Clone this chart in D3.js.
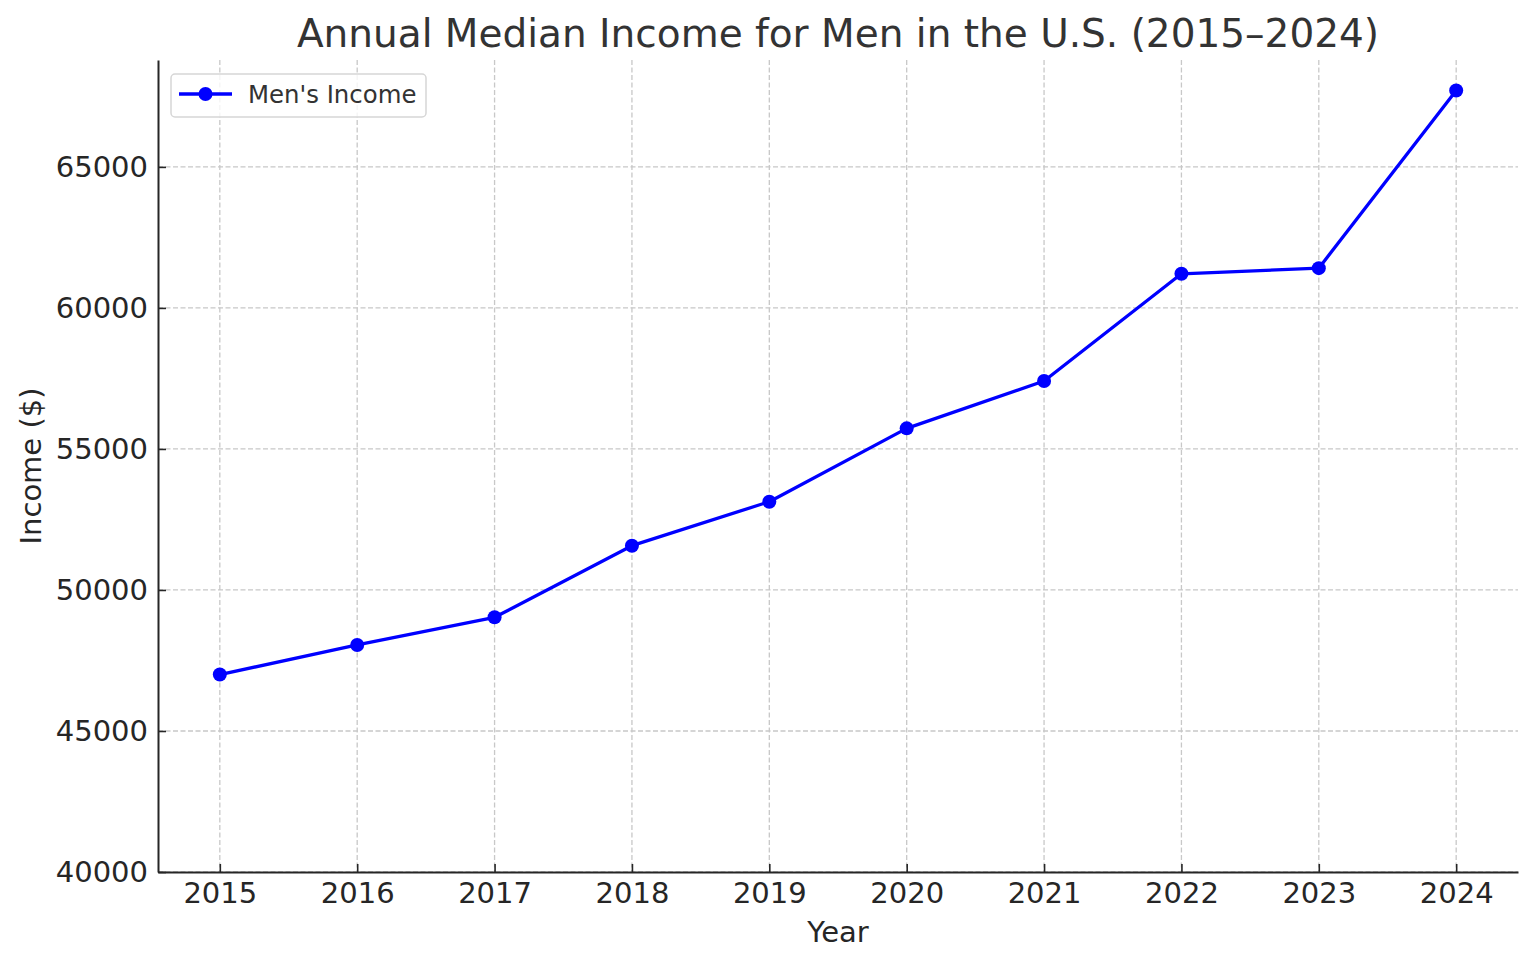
<!DOCTYPE html>
<html lang="en">
<head>
    <meta charset="UTF-8">
    <title>Annual Median Income for Men in the U.S.</title>
    <script src="https://cdnjs.cloudflare.com/ajax/libs/d3/7.8.5/d3.min.js"></script>
    <style>
        * { margin: 0; padding: 0; box-sizing: border-box; }
        body { background: #fff; font-family: 'DejaVu Sans', sans-serif; }
        svg { display: block; }
        .grid line { stroke: #c8c8c8; stroke-width: 1.3; stroke-dasharray: 5,2.5; }
    </style>
</head>
<body>
    <div id="chart"></div>

    <script>
        // Data
        const years = [2015, 2016, 2017, 2018, 2019, 2020, 2021, 2022, 2023, 2024];
        const income = [47000, 48050, 49030, 51570, 53130, 55730, 57410, 61210, 61410, 67710];
        const yTicks = [40000, 45000, 50000, 55000, 60000, 65000];

        const W = 1536, H = 966;
        const margin = {top: 60, right: 18, bottom: 94, left: 158};
        const width = W - margin.left - margin.right;
        const height = H - margin.top - margin.bottom;
        const textColor = '#262626';

        const svg = d3.select('#chart')
            .append('svg')
            .attr('width', W)
            .attr('height', H);

        const g = svg.append('g')
            .attr('transform', `translate(${margin.left},${margin.top})`);

        const x = d3.scaleLinear()
            .domain([2014.55, 2024.45])
            .range([0, width]);

        const y = d3.scaleLinear()
            .domain([40000, 68790])
            .range([height, 0]);

        // Grid lines
        g.append('g')
            .attr('class', 'grid')
            .selectAll('line')
            .data(years)
            .enter()
            .append('line')
            .attr('x1', d => x(d)).attr('x2', d => x(d))
            .attr('y1', 0).attr('y2', height);

        g.append('g')
            .attr('class', 'grid')
            .selectAll('line')
            .data(yTicks)
            .enter()
            .append('line')
            .attr('x1', 0).attr('x2', width)
            .attr('y1', d => y(d)).attr('y2', d => y(d));

        // X axis
        const xAxis = g.append('g')
            .attr('transform', `translate(0,${height})`)
            .call(d3.axisBottom(x).tickValues(years).tickFormat(d3.format('d'))
                .tickSizeInner(-8).tickSizeOuter(0).tickPadding(10));
        xAxis.select('.domain').attr('stroke', '#262626').attr('stroke-width', 2);
        xAxis.selectAll('.tick line').attr('stroke', '#262626').attr('stroke-width', 1.6);
        xAxis.selectAll('.tick text')
            .attr('fill', textColor)
            .style('font-family', "'DejaVu Sans', sans-serif")
            .style('font-size', '29px');

        // Y axis
        const yAxis = g.append('g')
            .call(d3.axisLeft(y).tickValues(yTicks).tickFormat(d3.format('d'))
                .tickSizeInner(-8).tickSizeOuter(0).tickPadding(10));
        yAxis.select('.domain').attr('stroke', '#262626').attr('stroke-width', 2);
        yAxis.selectAll('.tick line').attr('stroke', '#262626').attr('stroke-width', 1.6);
        yAxis.selectAll('.tick text')
            .attr('fill', textColor)
            .style('font-family', "'DejaVu Sans', sans-serif")
            .style('font-size', '29px');

        // Line and markers
        const points = years.map((yr, i) => ({year: yr, value: income[i]}));

        const line = d3.line()
            .x(d => x(d.year))
            .y(d => y(d.value));

        g.append('path')
            .datum(points)
            .attr('fill', 'none')
            .attr('stroke', '#0000ff')
            .attr('stroke-width', 3.3)
            .attr('stroke-linejoin', 'round')
            .attr('d', line);

        g.selectAll('circle.pt')
            .data(points)
            .enter()
            .append('circle')
            .attr('class', 'pt')
            .attr('cx', d => x(d.year))
            .attr('cy', d => y(d.value))
            .attr('r', 7)
            .attr('fill', '#0000ff');

        // Title
        svg.append('text')
            .attr('x', margin.left + width / 2)
            .attr('y', 47)
            .attr('text-anchor', 'middle')
            .attr('fill', '#333')
            .style('font-size', '39px')
            .text('Annual Median Income for Men in the U.S. (2015–2024)');

        // Axis labels
        svg.append('text')
            .attr('x', margin.left + width / 2)
            .attr('y', 942)
            .attr('text-anchor', 'middle')
            .attr('fill', textColor)
            .style('font-size', '29px')
            .text('Year');

        svg.append('text')
            .attr('transform', `translate(41,${margin.top + height / 2}) rotate(-90)`)
            .attr('text-anchor', 'middle')
            .attr('fill', textColor)
            .style('font-size', '29px')
            .text('Income ($)');

        // Legend
        const legend = svg.append('g')
            .attr('transform', 'translate(171,74)');

        legend.append('rect')
            .attr('width', 255)
            .attr('height', 43)
            .attr('rx', 4)
            .attr('fill', '#fff')
            .attr('fill-opacity', 0.8)
            .attr('stroke', '#d6d6d6')
            .attr('stroke-width', 1.5);

        legend.append('line')
            .attr('x1', 8).attr('x2', 61)
            .attr('y1', 20).attr('y2', 20)
            .attr('stroke', '#0000ff')
            .attr('stroke-width', 3.3);

        legend.append('circle')
            .attr('cx', 34.5).attr('cy', 20)
            .attr('r', 7)
            .attr('fill', '#0000ff');

        legend.append('text')
            .attr('x', 77)
            .attr('y', 29)
            .attr('fill', '#333')
            .style('font-size', '24.4px')
            .text("Men's Income");
    </script>
</body>
</html>
